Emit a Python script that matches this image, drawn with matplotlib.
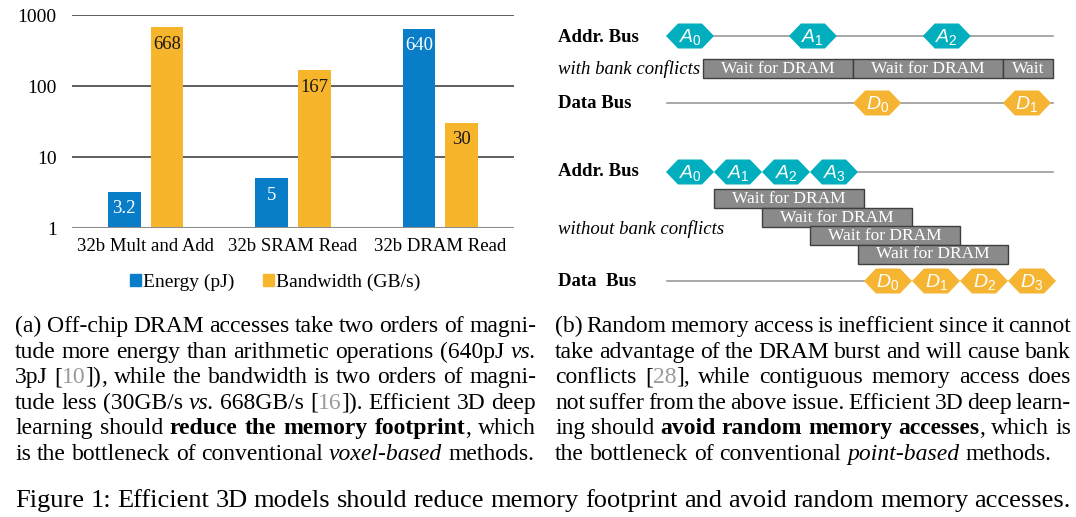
import numpy as np
import matplotlib
matplotlib.use('Agg')
import matplotlib.pyplot as plt
from matplotlib.patches import Patch, Polygon, Rectangle
from matplotlib.ticker import NullLocator

plt.rcParams['font.family'] = ['Liberation Serif', 'DejaVu Serif']
plt.rcParams['mathtext.fontset'] = 'custom'
plt.rcParams['mathtext.it'] = 'Liberation Sans:italic'
plt.rcParams['mathtext.rm'] = 'Liberation Sans'

# (a) bar chart data
categories = ['32b Mult and Add', '32b SRAM Read', '32b DRAM Read']
energy = [3.2, 5, 640]
bandwidth = [668, 167, 30]
energy_labels = ['3.2', '5', '640']
bandwidth_labels = ['668', '167', '30']

# (b) timing diagram, time in bus slots
conf_addr = [0, 2.56, 5.35]
conf_wait = [(0.77, 3.9), (3.9, 7.02), (7.02, 8.06)]
conf_wait_text = ['Wait for DRAM', 'Wait for DRAM', 'Wait']
conf_data = [3.9, 7.02]
seq_addr = [0, 1, 2, 3]
seq_wait = [1, 2, 3, 4]
wait_len = 3.125
seq_data = [4.125, 5.125, 6.125, 7.125]
bus_end = 8.06

# captions: (text, style) segments per line; n normal, i italic, b bold, g gray ref
cap_a = [
    [('(a) Off-chip DRAM accesses take two orders of magni-', 'n')],
    [('tude more energy than arithmetic operations (640pJ ', 'n'), ('vs.', 'i')],
    [('3pJ [', 'n'), ('10', 'g'), ('])', 'n'), (', while the bandwidth is two orders of magni-', 'n')],
    [('tude less (30GB/s ', 'n'), ('vs.', 'i'), (' 668GB/s [', 'n'), ('16', 'g'), (']). Efficient 3D deep', 'n')],
    [('learning should ', 'n'), ('reduce the memory footprint', 'b'), (', which', 'n')],
    [('is the bottleneck of conventional ', 'n'), ('voxel-based', 'i'), (' methods.', 'n')],
]
cap_b = [
    [('(b) Random memory access is inefficient since it cannot', 'n')],
    [('take advantage of the DRAM burst and will cause bank', 'n')],
    [('conflicts [', 'n'), ('28', 'g'), ('], while contiguous memory access does', 'n')],
    [('not suffer from the above issue. Efficient 3D deep learn-', 'n')],
    [('ing should ', 'n'), ('avoid random memory accesses', 'b'), (', which is', 'n')],
    [('the bottleneck of conventional ', 'n'), ('point-based', 'i'), (' methods.', 'n')],
]
fig_caption = 'Figure 1: Efficient 3D models should reduce memory footprint and avoid random memory accesses.'

blue = '#0a7dc8'
orange = '#f7b52c'
teal = '#00aebd'
gold = '#f5b431'

W, H = 1076, 517
fig = plt.figure(figsize=(W / 100, H / 100), dpi=100)


def px_axes(x0, y0, x1, y1):
    return fig.add_axes([x0 / W, 1 - y1 / H, (x1 - x0) / W, (y1 - y0) / H])


# ---- (a) bars ----
ax = px_axes(72, 15, 514, 228)
x = np.arange(len(categories))
bw, off = 0.22, 0.145
ax.bar(x - off, energy, bw, color=blue, zorder=3)
ax.bar(x + off, bandwidth, bw, color=orange, zorder=3)
ax.set_yscale('log')
ax.set_ylim(1, 1000)
ax.set_xlim(-0.5, 2.5)
ax.set_yticks([1, 10, 100, 1000])
ax.set_yticklabels(['1', '10', '100', '1000'])
ax.yaxis.set_minor_locator(NullLocator())
ax.set_xticks(x)
ax.set_xticklabels(categories)
for v in [10, 100, 1000]:
    ax.axhline(v, color='#333333', lw=1.1, zorder=1)
ax.axhline(1, color='#8c8c8c', lw=2.2, zorder=4)
for s in ax.spines.values():
    s.set_visible(False)
ax.tick_params(axis='both', length=0, labelsize=14)
ax.tick_params(axis='y', pad=11)
ax.tick_params(axis='x', pad=7, labelsize=13.5)

for xi, v, lab in zip(x, energy, energy_labels):
    ax.annotate(lab, (xi - off, v), xytext=(0, -6), textcoords='offset points',
                ha='center', va='top', color='white', fontsize=13.5, zorder=5)
for xi, v, lab in zip(x, bandwidth, bandwidth_labels):
    ax.annotate(lab, (xi + off, v), xytext=(0, -6), textcoords='offset points',
                ha='center', va='top', color='#1a1a1a', fontsize=13.5, zorder=5)

handles = [Patch(color=blue, label='Energy (pJ)'), Patch(color=orange, label='Bandwidth (GB/s)')]
fig.legend(handles=handles, loc='center', bbox_to_anchor=(275 / W, 1 - 282 / H), ncol=2,
           frameon=False, fontsize=14, handlelength=0.55, handleheight=0.55,
           handletextpad=0.1, columnspacing=1.5)

# ---- (b) timing diagram ----
slot_px = 48.0
t0_px = 666.0
ax2 = px_axes(540, 0, 1076, 300)
ax2.set_xlim((540 - t0_px) / slot_px, (1076 - t0_px) / slot_px)
ax2.set_ylim(300, 0)
ax2.axis('off')

hex_h = 12.5
hex_d = 0.25
line_col = '#9a9a9a'
lab_size = 13.5


def hexagon(t, yc, color, label):
    verts = [(t, yc), (t + hex_d, yc - hex_h), (t + 1 - hex_d, yc - hex_h),
             (t + 1, yc), (t + 1 - hex_d, yc + hex_h), (t + hex_d, yc + hex_h)]
    ax2.add_patch(Polygon(verts, closed=True, facecolor=color, edgecolor='none', zorder=3))
    ax2.text(t + 0.5, yc + 1, label, ha='center', va='center', color='white', fontsize=14, zorder=4)


def wait_box(t_start, t_end, y_top, y_bot, label):
    ax2.add_patch(Rectangle((t_start, y_top), t_end - t_start, y_bot - y_top,
                            facecolor='#8a8a8a', edgecolor='#3f3f3f', lw=1, zorder=2))
    ax2.text((t_start + t_end) / 2, (y_top + y_bot) / 2 + 0.5, label, ha='center', va='center',
             color='white', fontsize=12.5, zorder=4)


lab_t = (558 - t0_px) / slot_px

# with bank conflicts
ax2.plot([1, bus_end], [36, 36], color=line_col, lw=1.2, zorder=1)
ax2.plot([0.02, bus_end], [103, 103], color=line_col, lw=1.2, zorder=1)
for i, t in enumerate(conf_addr):
    hexagon(t, 36, teal, '$A_%d$' % i)
for (a, b), lab in zip(conf_wait, conf_wait_text):
    wait_box(a, b, 59, 78, lab)
for i, t in enumerate(conf_data):
    hexagon(t, 103, gold, '$D_%d$' % i)
ax2.text(lab_t, 37, 'Addr. Bus', fontweight='bold', fontsize=lab_size, va='center')
ax2.text(lab_t, 69, 'with bank conflicts', fontstyle='italic', fontsize=lab_size, va='center')
ax2.text(lab_t, 103, 'Data Bus', fontweight='bold', fontsize=lab_size, va='center')

# without bank conflicts
ax2.plot([seq_addr[-1] + 1, bus_end], [172, 172], color=line_col, lw=1.2, zorder=1)
ax2.plot([0.02, seq_data[0]], [281, 281], color=line_col, lw=1.2, zorder=1)
for i, t in enumerate(seq_addr):
    hexagon(t, 172, teal, '$A_%d$' % i)
row_h = 18.5
for i, t in enumerate(seq_wait):
    y_top = 189 + i * row_h
    wait_box(t, t + wait_len, y_top, y_top + row_h + 0.5, 'Wait for DRAM')
for i, t in enumerate(seq_data):
    hexagon(t, 281, gold, '$D_%d$' % i)
ax2.text(lab_t, 172, 'Addr. Bus', fontweight='bold', fontsize=lab_size, va='center')
ax2.text(lab_t, 229, 'without bank conflicts', fontstyle='italic', fontsize=lab_size, va='center')
ax2.text(lab_t, 281, 'Data  Bus', fontweight='bold', fontsize=lab_size, va='center')

# ---- captions ----
renderer = fig.canvas.get_renderer()
cap_size = 17
styles = {
    'n': dict(color='black'),
    'i': dict(color='black', fontstyle='italic'),
    'b': dict(color='black', fontweight='bold'),
    'g': dict(color='#9a9a9a'),
}


def words_of(line):
    words = [[]]
    for txt, st in line:
        for i, p in enumerate(txt.split(' ')):
            if i > 0:
                words.append([])
            if p:
                words[-1].append((p, st))
    return [w for w in words if w]


def seg_width(txt, st, size):
    t = fig.text(0, 0, txt, fontsize=size, **styles[st])
    w = t.get_window_extent(renderer).width
    t.remove()
    return w


def draw_line(line, x0, x1, base, size, justify):
    words = words_of(line)
    widths = [[seg_width(p, st, size) for p, st in w] for w in words]
    total = sum(sum(ws) for ws in widths)
    gap = size * 100 / 72 * 0.25
    if justify and len(words) > 1:
        gap = (x1 - x0 - total) / (len(words) - 1)
    xp = x0
    for w, ws in zip(words, widths):
        for (p, st), sw in zip(w, ws):
            fig.text(xp / W, 1 - base / H, p, fontsize=size, va='baseline', **styles[st])
            xp += sw
        xp += gap


for cap, (x0, x1) in [(cap_a, (15, 536)), (cap_b, (555, 1071))]:
    for j, line in enumerate(cap):
        draw_line(line, x0, x1, 332 + j * 25.6, cap_size, j < len(cap) - 1)

draw_line([(fig_caption, 'n')], 15, 1071, 507, 19, True)

fig.savefig('out.png', dpi=100)
